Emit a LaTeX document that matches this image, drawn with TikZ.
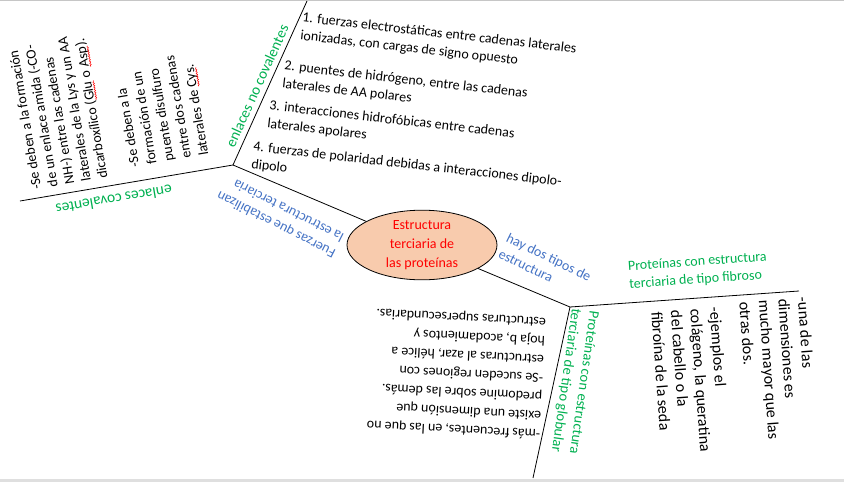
\documentclass[tikz,border=0pt]{standalone}
\usepackage{fontspec}
\setmainfont{Carlito}
\usetikzlibrary{arrows,shapes,decorations.pathmorphing}
\definecolor{mapgreen}{HTML}{00B050}
\definecolor{mapblue}{HTML}{4472C4}
\definecolor{mappeach}{HTML}{F8CBAD}
\newcommand\spell[1]{\tikz[baseline=(w.base)]{\node[inner sep=0pt,outer sep=0pt] (w) {#1}; \draw[red,line width=0.5pt,decorate,decoration={snake,amplitude=0.7pt,segment length=2.4pt}] ([yshift=-2pt]w.base west) -- ([yshift=-2pt]w.base east);}}
\tikzstyle{core}=[ellipse,draw,thick,fill=mappeach,text=red,minimum width=150pt,minimum height=68pt,inner sep=0pt,align=center,font=\fontsize{14}{19}\selectfont]
\tikzstyle{textblock}=[inner sep=0pt,align=left,font=\fontsize{14}{18}\selectfont]
\tikzstyle{big block}=[textblock,font=\fontsize{16}{19.5}\selectfont]
\tikzstyle{green text}=[textblock,text=mapgreen]
\tikzstyle{blue text}=[textblock,text=mapblue]
\tikzstyle{edge}=[draw,line width=0.8pt,-]

\begin{document}
\begin{tikzpicture}[x=1pt,y=-1pt]
    % The page of the screenshot
    \useasboundingbox (0,0) rectangle (844,482);
    \fill[gray!25] (0,479) rectangle (844,482);
    \draw[gray!45,line width=1pt] (0,0.5) -- (844,0.5);

    % First the centre and the branch points
    \node[core] (core) at (422,245) {Estructura\\terciaria de\\las proteínas};
    \foreach \x/\y/\name in {233/165/jL, 20/201/covEnd, 307/1/ncovEnd, 570/307/jR, 799/291/fibEnd, 533/478/globEnd}
        \coordinate (\name) at (\x,\y);

    % Connect them with the branches
    \foreach \source/\dest in {core/jL, jL/covEnd, jL/ncovEnd, core/jR, jR/fibEnd, jR/globEnd}
        \path[edge] (\source) -- (\dest);

    % Left side: forces
    \node[blue text,rotate=153] (stab) at (280,217) {Fuerzas que estabilizan\\la estructura terciaria};
    \node[green text,rotate=189.6,font=\fontsize{15.5}{19}\selectfont] (cov) at (114,200) {enlaces covalentes};
    \node[textblock,rotate=99.5,font=\fontsize{14}{16.8}\selectfont] (amida) at (59,112) {-Se deben a la formación\\de un enlace amida (-CO-\\NH-) entre las cadenas\\laterales de la Lys y un AA\\dicarboxílico (\spell{Glu} o \spell{Asp}).};
    \node[textblock,rotate=99.5,font=\fontsize{14}{17.5}\selectfont] (disulf) at (162,110) {-Se deben a la\\formación de un\\puente disulfuro\\entre dos cadenas\\laterales de \spell{Cys}.};
    \node[green text,rotate=65.6,font=\fontsize{15}{19}\selectfont] (ncov) at (257,86) {enlaces no covalentes};
    \node[textblock,rotate=-6.5,anchor=north west] (item1) at (303,12) {1. fuerzas electrostáticas entre cadenas laterales\\ionizadas, con cargas de signo opuesto};
    \node[textblock,rotate=-6.5,anchor=north west] (item2) at (285,60) {2. puentes de hidrógeno, entre las cadenas\\laterales de AA polares};
    \node[textblock,rotate=-6.5,anchor=north west] (item3) at (270,100) {3. interacciones hidrofóbicas entre cadenas\\laterales apolares};
    \node[textblock,rotate=-6.5,anchor=north west] (item4) at (254,141) {4. fuerzas de polaridad debidas a interacciones dipolo-\\dipolo};

    % Right side: the two types
    \node[blue text,rotate=-26] (types) at (545,265) {hay dos tipos de\\estructura};
    \node[green text,rotate=4] (fib) at (698,271) {Proteínas con estructura\\terciaria de tipo fibroso};
    \node[big block,rotate=-86,anchor=north west] (fibA) at (809,297) {-una de las\\dimensiones es\\mucho mayor que las\\otras dos.};
    \node[big block,rotate=-86,anchor=north west] (fibB) at (721,307) {-ejemplos el\\colágeno, la queratina\\del cabello o la\\fibroína de la seda};
    \node[green text,rotate=-98,anchor=north west,font=\fontsize{14.5}{18}\selectfont] (glob) at (600,312) {Proteínas con estructura\\terciaria de tipo globular};
    \node[textblock,rotate=177,anchor=north west,font=\fontsize{14}{18.7}\selectfont] (globA) at (540,440) {-más frecuentes, en las que no\\existe una dimensión que\\predomine sobre las demás.\\-Se suceden regiones con\\estructuras al azar, hélice a\\hoja b, acodamientos y\\estructuras supersecundarias.};
\end{tikzpicture}
\end{document}
